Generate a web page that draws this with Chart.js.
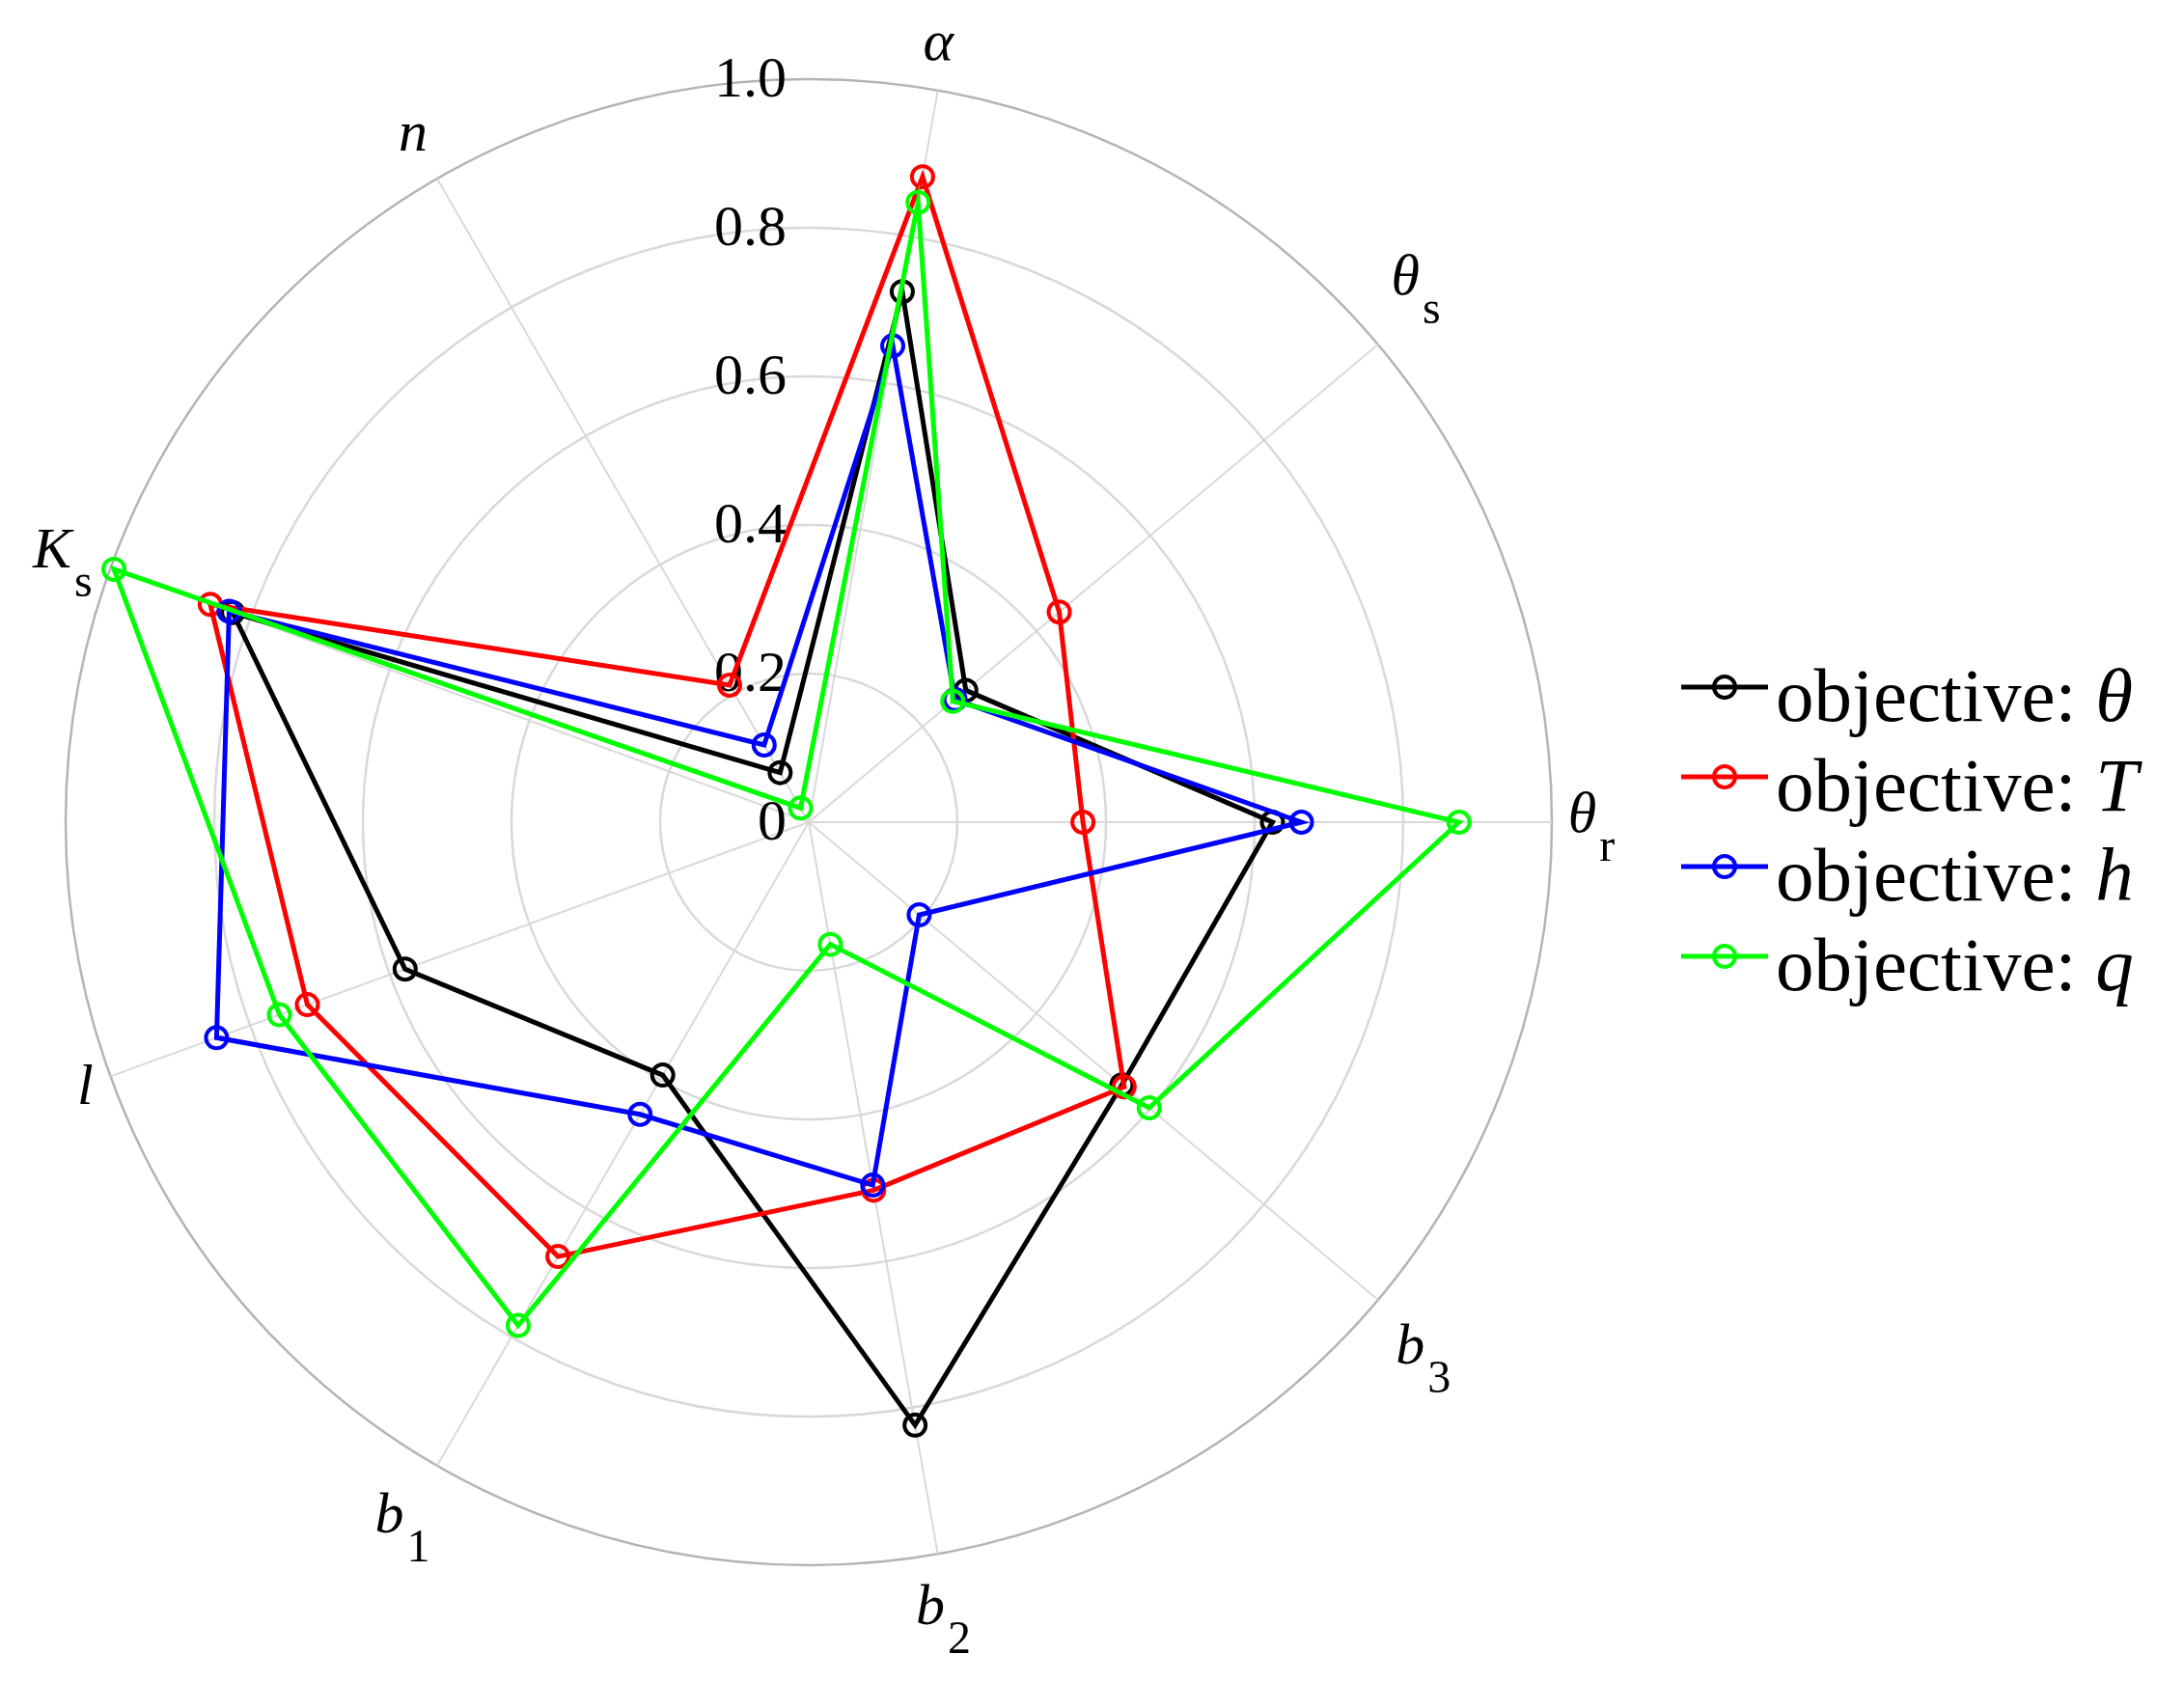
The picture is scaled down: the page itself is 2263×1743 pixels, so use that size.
<!DOCTYPE html>
<html><head><meta charset="utf-8">
<script src="https://cdn.jsdelivr.net/npm/chart.js@4/dist/chart.umd.min.js"></script>
<style>html,body{margin:0;padding:0;background:#fff;}canvas{display:block;}</style>
</head><body>
<canvas id="c" width="2263" height="1743" style="width:2263px;height:1743px"></canvas>
<script>
// Axes listed clockwise starting at the right-hand axis (theta_r)
const axisMain = ['θ', 'b', 'b', 'b', 'l', 'K', 'n', 'α', 'θ'];
const axisSub  = ['r', '3', '2', '1', '',  's', '',  '',  's'];

const tickValues = [0, 0.2, 0.4, 0.6, 0.8, 1.0];
const tickLabels = ['0', '0.2', '0.4', '0.6', '0.8', '1.0'];

const seriesSymbols = ['θ', 'T', 'h', 'q'];
const seriesColors  = ['#000000', '#ff0000', '#0000ff', '#00ff00'];

//                    θr     b3     b2     b1     l      Ks     n      α      θs
const valuesTheta = [0.624, 0.550, 0.824, 0.393, 0.578, 0.825, 0.077, 0.725, 0.276];
const valuesT     = [0.369, 0.554, 0.503, 0.675, 0.718, 0.857, 0.213, 0.882, 0.440];
const valuesH     = [0.663, 0.194, 0.496, 0.454, 0.848, 0.830, 0.120, 0.651, 0.257];
const valuesQ     = [0.875, 0.598, 0.167, 0.782, 0.758, 0.995, 0.022, 0.847, 0.253];

const seriesValues = [valuesTheta, valuesT, valuesH, valuesQ];

// layout: fine shift (px) of each axis label box relative to its anchor just outside the rim
const labelShift = [[-8, 4], [9, 28], [-3, 17], [-11, 20], [22, -9], [-4, 12], [0, 0], [-7, 4], [1, -26]];
const FONT = '"Liberation Serif", "Times New Roman", serif';

const datasets = seriesValues.map((vals, k) => ({
  label: 'objective: ' + seriesSymbols[k],
  data: vals,
  borderColor: seriesColors[k],
  pointBorderColor: seriesColors[k],
  pointBackgroundColor: 'rgba(0,0,0,0)',
  backgroundColor: 'rgba(0,0,0,0)',
  borderWidth: 5,
  pointRadius: 11,
  pointBorderWidth: 4,
  pointHoverRadius: 11,
  fill: false,
  tension: 0,
  order: 4 - k
}));

const tickPlugin = {
  id: 'tickText',
  beforeDatasetsDraw(chart) {
    const s = chart.scales.r;
    const ctx = chart.ctx;
    ctx.save();
    ctx.fillStyle = '#000';
    ctx.font = '60px ' + FONT;
    ctx.textAlign = 'right';
    ctx.textBaseline = 'middle';
    tickValues.forEach((v, i) => {
      const d = s.getDistanceFromCenterForValue(v);
      ctx.fillText(tickLabels[i], s.xCenter - 23, s.yCenter - d + 2);
    });
    ctx.restore();
  }
};

const labelPlugin = {
  id: 'axisText',
  afterDraw(chart) {
    const s = chart.scales.r;
    const ctx = chart.ctx;
    ctx.save();
    ctx.fillStyle = '#000';
    ctx.textAlign = 'left';
    ctx.textBaseline = 'alphabetic';
    const mainFont = 'italic 60px ' + FONT;
    const subFont = '48px ' + FONT;
    const subDrop = 30;
    axisMain.forEach((m, i) => {
      ctx.font = mainFont;
      const mm = ctx.measureText(m);
      let left = -mm.actualBoundingBoxLeft, right = mm.actualBoundingBoxRight;
      let top = -mm.actualBoundingBoxAscent, bottom = mm.actualBoundingBoxDescent;
      const sub = axisSub[i];
      const subX = mm.width + 3;
      if (sub) {
        ctx.font = subFont;
        const sm = ctx.measureText(sub);
        left = Math.min(left, subX - sm.actualBoundingBoxLeft);
        right = Math.max(right, subX + sm.actualBoundingBoxRight);
        top = Math.min(top, subDrop - sm.actualBoundingBoxAscent);
        bottom = Math.max(bottom, subDrop + sm.actualBoundingBoxDescent);
      }
      const p = s.getPointPosition(i, s.drawingArea + 50);
      const cx = p.x + labelShift[i][0];
      const cy = p.y + labelShift[i][1];
      const ox = cx - (left + right) / 2;
      const oy = cy - (top + bottom) / 2;
      ctx.font = mainFont;
      ctx.fillText(m, ox, oy);
      if (sub) {
        ctx.font = subFont;
        ctx.fillText(sub, ox + subX, oy + subDrop);
      }
    });

    // legend
    const rowY0 = 712, rowGap = 93;
    chart.data.datasets.forEach((ds, k) => {
      const y = rowY0 + k * rowGap;
      ctx.strokeStyle = ds.borderColor;
      ctx.lineWidth = 5;
      ctx.beginPath();
      ctx.moveTo(1742, y);
      ctx.lineTo(1832, y);
      ctx.stroke();
      ctx.lineWidth = 4;
      ctx.beginPath();
      ctx.arc(1787, y, 11, 0, Math.PI * 2);
      ctx.stroke();
      ctx.fillStyle = '#000';
      ctx.font = '79px ' + FONT;
      const pre = 'objective: ';
      ctx.fillText(pre, 1840, y + 35);
      const w = ctx.measureText(pre).width;
      ctx.font = 'italic 79px ' + FONT;
      ctx.fillText(seriesSymbols[k], 1840 + w, y + 35);
    });
    ctx.restore();
  }
};

new Chart(document.getElementById('c').getContext('2d'), {
  type: 'radar',
  data: { labels: axisMain.map((m, i) => m + axisSub[i]), datasets },
  options: {
    responsive: false,
    devicePixelRatio: 1,
    animation: false,
    layout: { padding: { left: 68, top: 82, right: 655, bottom: 121 } },
    plugins: { legend: { display: false }, tooltip: { enabled: false } },
    scales: {
      r: {
        min: 0, max: 1,
        startAngle: 90,
        ticks: { display: false, stepSize: 0.2 },
        pointLabels: { display: false },
        grid: {
          circular: true,
          color: (c) => (c.tick && c.tick.value >= 0.999) ? '#b4b4b4' : '#d9d9d9',
          lineWidth: 2.5
        },
        angleLines: { color: '#d9d9d9', lineWidth: 2 }
      }
    }
  },
  plugins: [tickPlugin, labelPlugin]
});
</script>
</body></html>
